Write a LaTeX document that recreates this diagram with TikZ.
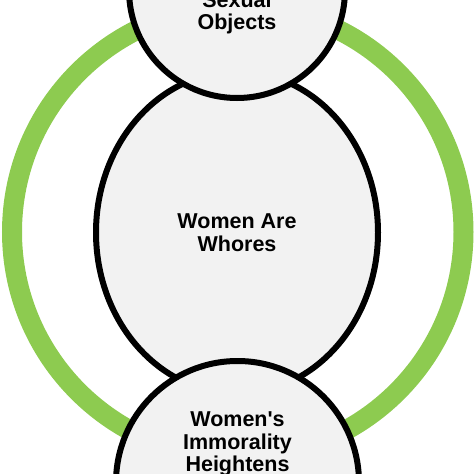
\documentclass[tikz,border=0pt]{standalone}
\usepackage{fontspec}
\setmainfont{Liberation Sans}[Ligatures=TeXOff]
\usetikzlibrary{shapes.geometric,shadows,positioning}
\definecolor{ringgreen}{RGB}{141,203,80}
\definecolor{bubblefill}{RGB}{242,242,242}
\tikzset{
  bubble/.style={draw=black, line width=6pt, fill=bubblefill, inner sep=0pt,
    drop shadow={opacity=0.25, shadow xshift=0pt, shadow yshift=-3pt}},
  caption/.style={font=\fontsize{21.5}{22.5}\selectfont\bfseries, align=center, text=black},
}
\begin{document}
\begin{tikzpicture}[x=1pt,y=-1pt]
    \useasboundingbox (0,0) rectangle (474,474);
    \clip (0,0) rectangle (474,474);
    % Green cycle behind the bubbles
    \draw[ringgreen, line width=20pt] (237.75,232) circle (225.75pt);

    % Bubbles
    \node[bubble, ellipse, minimum width=282pt, minimum height=322pt, caption] (whores) at (237,232.5) {Women Are\\Whores};
    \node[bubble, circle, minimum size=216pt] (objects) at (237,-10) {};
    \node[bubble, circle, minimum size=243pt] (immorality) at (237.5,482.5) {};

    % Texts of the cut-off bubbles
    \node[caption] (objectstext) at (237,13) {Sexual\\Objects};
    \node[caption] (immoralitytext) at (237.5,444) {Women's\\Immorality\\Heightens};
\end{tikzpicture}
\end{document}
